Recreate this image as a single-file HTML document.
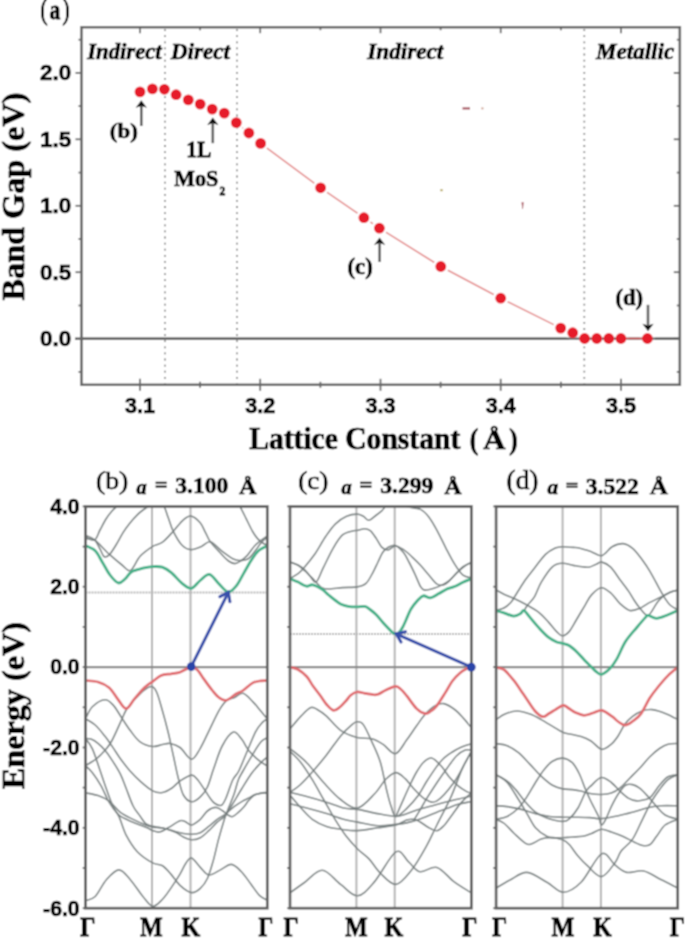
<!DOCTYPE html>
<html><head><meta charset="utf-8"><title>MoS2 band gap vs lattice constant</title>
<style>html,body{margin:0;padding:0;background:#fff;}svg{display:block;}text{stroke:#000;stroke-width:0.7px;}</style></head>
<body><svg width="685" height="938" viewBox="0 0 685 938">
<defs><filter id="soft" x="0" y="0" width="685" height="938" filterUnits="userSpaceOnUse"><feConvolveMatrix order="3" kernelMatrix="1 2 1 2 4 2 1 2 1" divisor="16" edgeMode="duplicate"/></filter></defs>
<g filter="url(#soft)">
<rect width="685" height="938" fill="#fff"/>
<g stroke="#666" stroke-width="2.6" fill="none">
<path d="M81.5,27.2H679.8V384.8H81.5Z"/>
<path d="M75,338.7H679.8"/>
</g>
<g stroke="#666" stroke-width="1.8" fill="none">
<path d="M140.0,378.8V390.8"/>
<path d="M140.0,27.2V33.2"/>
<path d="M200.1,381.8V387.8"/>
<path d="M200.1,27.2V30.2"/>
<path d="M260.2,378.8V390.8"/>
<path d="M260.2,27.2V33.2"/>
<path d="M320.4,381.8V387.8"/>
<path d="M320.4,27.2V30.2"/>
<path d="M380.5,378.8V390.8"/>
<path d="M380.5,27.2V33.2"/>
<path d="M440.6,381.8V387.8"/>
<path d="M440.6,27.2V30.2"/>
<path d="M500.7,378.8V390.8"/>
<path d="M500.7,27.2V33.2"/>
<path d="M560.9,381.8V387.8"/>
<path d="M560.9,27.2V30.2"/>
<path d="M621.0,378.8V390.8"/>
<path d="M621.0,27.2V33.2"/>
<path d="M78.5,371.9H81.5"/>
<path d="M676.8,371.9H679.8"/>
<path d="M75.5,338.7H81.5"/>
<path d="M673.8,338.7H679.8"/>
<path d="M78.5,305.5H81.5"/>
<path d="M676.8,305.5H679.8"/>
<path d="M75.5,272.2H81.5"/>
<path d="M673.8,272.2H679.8"/>
<path d="M78.5,239.0H81.5"/>
<path d="M676.8,239.0H679.8"/>
<path d="M75.5,205.8H81.5"/>
<path d="M673.8,205.8H679.8"/>
<path d="M78.5,172.6H81.5"/>
<path d="M676.8,172.6H679.8"/>
<path d="M75.5,139.3H81.5"/>
<path d="M673.8,139.3H679.8"/>
<path d="M78.5,106.1H81.5"/>
<path d="M676.8,106.1H679.8"/>
<path d="M75.5,72.9H81.5"/>
<path d="M673.8,72.9H679.8"/>
<path d="M78.5,39.7H81.5"/>
<path d="M676.8,39.7H679.8"/>
</g>
<path d="M140,91.9 L152.4,88.9 L164.4,89.3 L176.1,94.7 L188.3,99.9 L200.2,104.1 L212.2,109.1 L224.3,113.1 L236.3,122.6 L248.9,133 L260.6,143.4 L320.6,187.8 L363.9,217.7 L379.4,228.2 L440.8,266.5 L500.7,298.2 L560.7,328.1 L572.7,332.7 L584.6,338.5 L596.8,338.5 L608.8,338.5 L620.9,338.5 L647.4,338.5" stroke="#e58c8c" stroke-width="1.6" fill="none"/>
<circle cx="140" cy="91.9" r="7.9" fill="#fff"/>
<circle cx="152.4" cy="88.9" r="7.9" fill="#fff"/>
<circle cx="164.4" cy="89.3" r="7.9" fill="#fff"/>
<circle cx="176.1" cy="94.7" r="7.9" fill="#fff"/>
<circle cx="188.3" cy="99.9" r="7.9" fill="#fff"/>
<circle cx="200.2" cy="104.1" r="7.9" fill="#fff"/>
<circle cx="212.2" cy="109.1" r="7.9" fill="#fff"/>
<circle cx="224.3" cy="113.1" r="7.9" fill="#fff"/>
<circle cx="236.3" cy="122.6" r="7.9" fill="#fff"/>
<circle cx="248.9" cy="133" r="7.9" fill="#fff"/>
<circle cx="260.6" cy="143.4" r="7.9" fill="#fff"/>
<circle cx="320.6" cy="187.8" r="7.9" fill="#fff"/>
<circle cx="363.9" cy="217.7" r="7.9" fill="#fff"/>
<circle cx="379.4" cy="228.2" r="7.9" fill="#fff"/>
<circle cx="440.8" cy="266.5" r="7.9" fill="#fff"/>
<circle cx="500.7" cy="298.2" r="7.9" fill="#fff"/>
<circle cx="560.7" cy="328.1" r="7.9" fill="#fff"/>
<circle cx="572.7" cy="332.7" r="7.9" fill="#fff"/>
<circle cx="584.6" cy="338.5" r="7.9" fill="#fff"/>
<circle cx="596.8" cy="338.5" r="7.9" fill="#fff"/>
<circle cx="608.8" cy="338.5" r="7.9" fill="#fff"/>
<circle cx="620.9" cy="338.5" r="7.9" fill="#fff"/>
<circle cx="647.4" cy="338.5" r="7.9" fill="#fff"/>
<path d="M82.5,338.7H679.8" stroke="#666" stroke-width="2.2"/>
<g stroke="#808080" stroke-width="1.7" stroke-dasharray="1.8 4.3" fill="none">
<path d="M165.0,29.2V383.8"/>
<path d="M237.0,29.2V383.8"/>
<path d="M584.3,29.2V383.8"/>
</g>
<path d="M620.9,338.5H647.4" stroke="#d97070" stroke-width="1.8"/>
<circle cx="140" cy="91.9" r="5.4" fill="#e61c2c"/>
<circle cx="152.4" cy="88.9" r="5.4" fill="#e61c2c"/>
<circle cx="164.4" cy="89.3" r="5.4" fill="#e61c2c"/>
<circle cx="176.1" cy="94.7" r="5.4" fill="#e61c2c"/>
<circle cx="188.3" cy="99.9" r="5.4" fill="#e61c2c"/>
<circle cx="200.2" cy="104.1" r="5.4" fill="#e61c2c"/>
<circle cx="212.2" cy="109.1" r="5.4" fill="#e61c2c"/>
<circle cx="224.3" cy="113.1" r="5.4" fill="#e61c2c"/>
<circle cx="236.3" cy="122.6" r="5.4" fill="#e61c2c"/>
<circle cx="248.9" cy="133" r="5.4" fill="#e61c2c"/>
<circle cx="260.6" cy="143.4" r="5.4" fill="#e61c2c"/>
<circle cx="320.6" cy="187.8" r="5.4" fill="#e61c2c"/>
<circle cx="363.9" cy="217.7" r="5.4" fill="#e61c2c"/>
<circle cx="379.4" cy="228.2" r="5.4" fill="#e61c2c"/>
<circle cx="440.8" cy="266.5" r="5.4" fill="#e61c2c"/>
<circle cx="500.7" cy="298.2" r="5.4" fill="#e61c2c"/>
<circle cx="560.7" cy="328.1" r="5.4" fill="#e61c2c"/>
<circle cx="572.7" cy="332.7" r="5.4" fill="#e61c2c"/>
<circle cx="584.6" cy="338.5" r="5.4" fill="#e61c2c"/>
<circle cx="596.8" cy="338.5" r="5.4" fill="#e61c2c"/>
<circle cx="608.8" cy="338.5" r="5.4" fill="#e61c2c"/>
<circle cx="620.9" cy="338.5" r="5.4" fill="#e61c2c"/>
<circle cx="647.4" cy="338.5" r="5.4" fill="#e61c2c"/>
<path d="M141.3,106.0V126" stroke="#606060" stroke-width="2.6"/><path d="M141.3,100.3 L146.9,107.8 L141.3,106.0 L135.70000000000002,107.8Z" fill="#111"/>
<path d="M212.8,123.2V143.2" stroke="#606060" stroke-width="2.6"/><path d="M212.8,117.5 L218.4,125.0 L212.8,123.2 L207.20000000000002,125.0Z" fill="#111"/>
<path d="M379.6,243.1V262" stroke="#606060" stroke-width="2.6"/><path d="M379.6,237.4 L385.20000000000005,244.9 L379.6,243.1 L374.0,244.9Z" fill="#111"/>
<path d="M648,325.5V304.8" stroke="#606060" stroke-width="2.6"/><path d="M648,331.2 L653.6,323.7 L648,325.5 L642.4,323.7Z" fill="#111"/>
<rect x="462.5" y="107.3" width="7.5" height="2.2" fill="#9a3a48" opacity="0.85"/>
<rect x="481.4" y="107.5" width="2" height="1.8" fill="#b06a50" opacity="0.7"/>
<rect x="440.3" y="189.2" width="2.4" height="2" fill="#a09030" opacity="0.8"/>
<path d="M521.6,202.3L523.6,202.3L522.9,209L522.3,209Z" fill="#9a2a3a" opacity="0.9"/>
<text transform="translate(40.40,18.56) scale(1,1.3504)" font-family="'Liberation Serif', serif" font-weight="normal" font-style="normal" font-size="21.05" fill="#000">(</text>
<text transform="translate(49.60,19.12) scale(1,1.3021)" font-family="'Liberation Serif', serif" font-weight="bold" font-style="normal" font-size="21.60" fill="#000">a</text>
<text transform="translate(62.60,18.56) scale(1,1.3504)" font-family="'Liberation Serif', serif" font-weight="normal" font-style="normal" font-size="21.05" fill="#000">)</text>
<text transform="translate(87.23,59.16) scale(1,1.0380)" font-family="'Liberation Serif', serif" font-weight="bold" font-style="italic" font-size="22.68" fill="#000">Indirect</text>
<text transform="translate(170.77,59.16) scale(1,1.0147)" font-family="'Liberation Serif', serif" font-weight="bold" font-style="italic" font-size="23.20" fill="#000">Direct</text>
<text transform="translate(367.23,59.17) scale(1,1.0028)" font-family="'Liberation Serif', serif" font-weight="bold" font-style="italic" font-size="23.20" fill="#000">Indirect</text>
<text transform="translate(595.95,58.97) scale(1,1.0070)" font-family="'Liberation Serif', serif" font-weight="bold" font-style="italic" font-size="23.10" fill="#000">Metallic</text>
<text transform="translate(109.80,137.76) scale(1,0.9334)" font-family="'Liberation Serif', serif" font-weight="bold" font-style="normal" font-size="22.90" fill="#000">(b)</text>
<text transform="translate(186.30,157.20) scale(1,1.1065)" font-family="'Liberation Serif', serif" font-weight="bold" font-style="normal" font-size="21.50" fill="#000">1L</text>
<text transform="translate(174.00,186.17) scale(1,1.0516)" font-family="'Liberation Serif', serif" font-weight="bold" font-style="normal" font-size="22.20" fill="#000">MoS</text>
<text transform="translate(219.60,194.60) scale(1,1.1451)" font-family="'Liberation Serif', serif" font-weight="bold" font-style="normal" font-size="11.60" fill="#000">2</text>
<text transform="translate(347.60,273.88) scale(1,1.0233)" font-family="'Liberation Serif', serif" font-weight="bold" font-style="normal" font-size="22.61" fill="#000">(c)</text>
<text transform="translate(615.50,305.02) scale(1,1.0591)" font-family="'Liberation Serif', serif" font-weight="bold" font-style="normal" font-size="22.58" fill="#000">(d)</text>
<text transform="translate(40.06,80.38) scale(1,0.9717)" font-family="'Liberation Sans', sans-serif" font-weight="bold" font-style="normal" font-size="22.40" fill="#000">2.0</text>
<text transform="translate(40.06,146.83) scale(1,0.9857)" font-family="'Liberation Sans', sans-serif" font-weight="bold" font-style="normal" font-size="22.40" fill="#000">1.5</text>
<text transform="translate(40.06,213.28) scale(1,0.9717)" font-family="'Liberation Sans', sans-serif" font-weight="bold" font-style="normal" font-size="22.40" fill="#000">1.0</text>
<text transform="translate(40.06,279.73) scale(1,0.9717)" font-family="'Liberation Sans', sans-serif" font-weight="bold" font-style="normal" font-size="22.40" fill="#000">0.5</text>
<text transform="translate(40.06,346.18) scale(1,0.9717)" font-family="'Liberation Sans', sans-serif" font-weight="bold" font-style="normal" font-size="22.40" fill="#000">0.0</text>
<text transform="translate(124.99,412.67)" font-family="'Liberation Sans', sans-serif" font-weight="bold" font-style="normal" font-size="21.60" fill="#000">3.1</text>
<text transform="translate(245.24,412.67)" font-family="'Liberation Sans', sans-serif" font-weight="bold" font-style="normal" font-size="21.60" fill="#000">3.2</text>
<text transform="translate(365.49,412.67)" font-family="'Liberation Sans', sans-serif" font-weight="bold" font-style="normal" font-size="21.60" fill="#000">3.3</text>
<text transform="translate(485.74,412.67)" font-family="'Liberation Sans', sans-serif" font-weight="bold" font-style="normal" font-size="21.60" fill="#000">3.4</text>
<text transform="translate(605.99,412.67)" font-family="'Liberation Sans', sans-serif" font-weight="bold" font-style="normal" font-size="21.60" fill="#000">3.5</text>
<text transform="translate(249.20,448.90) scale(1,1.0474)" font-family="'Liberation Serif', serif" font-weight="bold" font-style="normal" font-size="29.59" fill="#000">Lattice Constant</text>
<text transform="translate(469.80,448.56) scale(1,1.1253)" font-family="'Liberation Serif', serif" font-weight="bold" font-style="normal" font-size="25.26" fill="#000">(</text>
<text transform="translate(482.90,448.70) scale(1,0.8477)" font-family="'Liberation Serif', serif" font-weight="bold" font-style="normal" font-size="31.28" fill="#000">Å</text>
<text transform="translate(509.20,448.56) scale(1,1.1253)" font-family="'Liberation Serif', serif" font-weight="bold" font-style="normal" font-size="25.26" fill="#000">)</text>
<text transform="translate(23.83,300.50) rotate(-90) scale(1,1.0000)" font-family="'Liberation Serif', serif" font-weight="bold" font-style="normal" font-size="32.27" fill="#000">Band Gap (eV)</text>
<defs>
<clipPath id="cpb"><rect x="85.5" y="506.5" width="181.8" height="401.70000000000005"/></clipPath>
<clipPath id="cpc"><rect x="290.0" y="506.5" width="181.39999999999998" height="401.70000000000005"/></clipPath>
<clipPath id="cpd"><rect x="496.1" y="506.5" width="181.60000000000002" height="401.70000000000005"/></clipPath>
</defs>
<g clip-path="url(#cpb)">
<g stroke="#b4b4b4" stroke-width="2" fill="none">
<path d="M152.0,506.5V908.2"/>
<path d="M190.5,506.5V908.2"/>
</g>
<path d="M85.5,592.4H267.3" stroke="#b6b6b6" stroke-width="2" stroke-dasharray="2 1" fill="none"/>
<path d="M85.5,667.1H267.3" stroke="#888" stroke-width="2.2" fill="none"/>
<g stroke="#788080" stroke-width="1.6" fill="none">
<path d="M85.5,535.5 C87.0,536.2 90.5,536.6 94.5,539.7 C98.5,542.8 104.6,550.0 109.2,554.2 C113.8,558.4 118.5,562.3 122.0,565.0 C125.5,567.7 127.5,572.0 130.5,570.5 C133.5,569.0 136.4,560.3 140.1,556.3 C143.8,552.3 149.0,548.8 152.7,546.4 C156.4,544.0 159.0,544.8 162.5,542.2 C166.0,539.6 170.1,534.7 173.5,531.0 C176.9,527.3 180.2,522.6 183.1,520.1 C186.0,517.6 188.2,515.7 191.0,516.1 C193.8,516.5 197.8,520.0 200.2,522.7 C202.6,525.5 203.8,529.4 205.5,532.6 C207.2,535.8 208.0,538.6 210.4,541.9 C212.8,545.2 216.7,549.1 219.7,552.3 C222.7,555.5 225.9,559.1 228.5,561.0 C231.1,562.9 233.0,563.6 235.0,563.6 C237.0,563.6 238.5,562.3 240.5,561.0 C242.5,559.7 244.7,558.1 247.1,555.6 C249.5,553.1 252.3,548.3 254.7,545.7 C257.1,543.1 259.2,541.9 261.3,540.2 C263.4,538.6 266.3,536.5 267.3,535.8"/>
<path d="M85.5,538.7 C87.0,538.9 92.1,538.4 94.5,540.1 C96.9,541.8 98.4,546.3 100.0,549.0 C101.6,551.7 102.5,555.5 104.0,556.5 C105.5,557.5 107.2,556.8 109.2,554.9 C111.2,553.0 113.7,548.8 116.0,545.0 C118.3,541.2 120.9,536.1 123.2,532.4 C125.5,528.7 127.7,525.9 130.0,523.0 C132.3,520.1 135.1,517.1 137.3,514.9 C139.5,512.7 140.9,511.5 143.0,510.0 C145.1,508.5 147.7,506.9 150.0,506.0 C152.3,505.1 154.7,504.4 157.0,504.5 C159.3,504.6 162.1,504.4 163.9,506.5 C165.7,508.6 166.4,512.9 168.0,517.0 C169.6,521.1 170.9,526.5 173.2,531.2 C175.5,535.9 178.8,541.9 181.8,545.0 C184.8,548.1 187.7,549.4 191.0,549.6 C194.3,549.8 198.3,547.7 201.5,546.4 C204.7,545.1 207.0,541.1 210.4,541.9 C213.8,542.7 218.2,548.4 221.9,551.2 C225.6,554.0 229.9,557.2 232.8,558.8 C235.7,560.3 236.8,560.5 239.4,560.5 C242.0,560.5 245.5,560.5 248.2,558.8 C250.9,557.1 253.6,552.8 255.8,550.1 C258.0,547.4 259.4,544.6 261.3,542.4 C263.2,540.2 266.3,537.8 267.3,536.9"/>
<path d="M85.5,537.0 C87.0,537.5 92.1,541.3 94.5,540.1 C96.9,538.9 98.1,533.5 100.0,530.0 C101.9,526.5 104.0,522.2 106.0,519.0 C108.0,515.8 110.1,513.2 112.0,511.0 C113.9,508.8 116.1,507.3 117.6,506.0 C119.1,504.7 120.4,503.5 121.0,503.0"/>
<path d="M236.0,500.0 C236.7,501.1 238.3,503.4 240.0,506.5 C241.7,509.6 243.9,514.1 246.0,518.3 C248.1,522.5 250.6,528.0 252.6,531.5 C254.6,535.0 256.2,537.1 258.0,539.1 C259.8,541.1 261.9,542.5 263.5,543.5 C265.1,544.5 266.7,544.8 267.3,545.0"/>
<path d="M85.5,718.7 C86.7,716.7 89.2,709.9 92.4,706.8 C95.7,703.6 101.5,700.0 105.0,699.8 C108.5,699.6 110.6,702.4 113.4,705.4 C116.2,708.4 119.0,713.8 121.8,718.0 C124.6,722.2 127.3,726.6 130.3,730.6 C133.4,734.6 136.4,739.2 140.1,741.9 C143.8,744.5 149.0,746.1 152.7,746.5 C156.4,746.9 159.6,745.0 162.5,744.5 C165.4,744.0 167.1,743.0 170.0,743.5 C172.9,744.0 176.4,744.9 180.0,747.5 C183.6,750.1 188.1,759.0 191.4,759.2 C194.7,759.4 196.9,753.8 200.0,748.8 C203.1,743.8 206.5,735.8 209.7,729.3 C212.9,722.8 216.6,714.6 219.4,709.9 C222.2,705.2 223.8,703.0 226.3,700.9 C228.8,698.8 231.8,698.7 234.6,697.4 C237.4,696.1 240.0,692.6 243.0,693.3 C246.0,694.0 249.7,698.6 252.7,701.6 C255.7,704.6 258.6,708.4 261.0,711.3 C263.4,714.2 266.2,717.6 267.3,718.9"/>
<path d="M85.5,765.7 C87.3,764.5 93.3,761.3 96.6,758.7 C99.8,756.1 102.4,753.3 105.0,750.3 C107.6,747.3 109.2,745.6 112.0,740.5 C114.8,735.4 119.4,724.6 121.8,719.4 C124.2,714.2 124.3,712.9 126.5,709.5 C128.7,706.1 132.0,702.2 135.0,699.0 C138.0,695.8 141.5,692.1 144.3,690.0 C147.1,687.9 149.9,686.0 152.0,686.5 C154.1,687.0 155.2,688.7 156.9,692.8 C158.7,696.9 160.6,704.5 162.5,711.0 C164.4,717.5 166.2,724.3 168.1,732.0 C170.0,739.7 172.0,749.8 173.7,757.3 C175.3,764.8 176.4,770.7 178.0,777.0 C179.6,783.3 181.1,790.9 183.4,795.0 C185.7,799.1 188.8,801.5 191.6,801.8 C194.4,802.1 197.7,799.4 200.3,796.9 C202.9,794.4 205.2,791.8 207.4,787.0 C209.7,782.2 211.3,775.0 213.8,768.2 C216.3,761.4 218.9,752.0 222.2,746.0 C225.4,740.0 230.1,733.2 233.3,732.1 C236.5,731.0 239.1,736.1 241.6,739.1 C244.1,742.1 245.7,746.7 248.5,750.2 C251.3,753.7 255.1,757.2 258.2,759.9 C261.3,762.5 265.8,765.1 267.3,766.1"/>
<path d="M85.5,718.7 C87.1,719.8 92.0,722.1 95.2,725.0 C98.5,727.9 102.2,732.8 105.0,736.3 C107.8,739.8 109.4,742.4 112.0,746.1 C114.6,749.8 117.4,754.5 120.4,758.7 C123.5,762.9 127.0,767.6 130.3,771.3 C133.6,775.0 136.4,777.8 140.1,781.1 C143.8,784.4 149.0,789.0 152.7,790.9 C156.4,792.8 159.3,793.0 162.5,792.5 C165.7,792.0 169.1,789.9 172.0,788.0 C174.9,786.1 176.8,783.1 180.0,781.0 C183.2,778.9 188.5,775.4 191.4,775.1 C194.3,774.8 195.1,777.0 197.2,779.3 C199.3,781.6 201.9,785.8 204.1,789.0 C206.3,792.2 208.4,795.9 210.2,798.3 C212.0,800.7 213.1,802.3 215.0,803.5 C216.9,804.7 219.6,806.2 221.4,805.3 C223.2,804.4 224.1,802.2 226.0,798.0 C227.9,793.8 230.6,784.5 232.7,780.0 C234.8,775.5 236.4,775.8 238.8,771.0 C241.2,766.2 244.3,758.0 247.1,751.5 C249.9,745.0 252.9,737.0 255.4,732.1 C257.9,727.2 260.4,724.6 262.4,722.4 C264.4,720.2 266.5,719.5 267.3,718.9"/>
<path d="M85.5,738.4 C86.4,738.5 88.9,738.3 91.0,739.1 C93.1,739.9 95.7,741.4 98.0,743.3 C100.3,745.2 102.7,747.5 105.0,750.3 C107.3,753.1 109.4,756.1 112.0,760.1 C114.6,764.1 118.1,769.5 120.4,774.1 C122.7,778.8 123.9,782.7 126.0,788.0 C128.1,793.3 130.8,801.3 133.1,806.0 C135.4,810.7 137.9,813.1 140.0,816.0 C142.1,818.9 143.6,821.9 145.7,823.6 C147.8,825.3 149.9,825.7 152.7,826.4 C155.5,827.1 158.8,827.2 162.5,828.0 C166.2,828.8 171.5,830.5 175.0,831.4 C178.5,832.3 180.6,833.0 183.4,833.5 C186.2,834.0 188.8,834.3 191.6,834.2 C194.4,834.1 197.4,834.1 200.3,832.8 C203.2,831.5 206.0,828.6 208.8,826.4 C211.6,824.2 214.4,821.5 217.2,819.4 C220.0,817.3 222.9,815.9 225.7,813.8 C228.5,811.7 231.3,808.8 234.1,806.7 C236.9,804.6 240.2,802.5 242.6,801.1 C244.9,799.7 245.9,799.5 248.2,798.3 C250.5,797.1 253.4,795.0 256.6,794.1 C259.8,793.2 265.5,792.9 267.3,792.7"/>
<path d="M85.5,738.4 C86.7,740.1 90.1,743.9 92.4,748.9 C94.7,753.9 97.3,762.5 99.4,768.5 C101.5,774.5 102.9,779.1 105.0,785.0 C107.1,790.9 109.7,799.0 112.0,804.0 C114.3,809.0 115.5,812.2 119.0,815.2 C122.5,818.2 128.4,820.1 133.1,822.2 C137.8,824.3 143.8,826.4 147.1,827.8 C150.4,829.2 150.6,829.9 152.7,830.6 C154.8,831.3 157.1,832.5 159.7,832.0 C162.3,831.5 164.7,829.7 168.1,827.8 C171.5,825.9 177.2,821.8 180.0,820.8 C182.8,819.8 183.1,820.8 185.0,821.5 C186.9,822.2 189.0,825.4 191.6,825.0 C194.2,824.6 197.7,821.7 200.3,819.4 C202.9,817.1 204.8,813.0 207.4,811.0 C210.0,809.0 213.2,807.4 215.8,807.4 C218.4,807.4 220.8,809.7 222.9,811.0 C225.0,812.3 226.9,814.3 228.5,815.2 C230.1,816.1 231.1,817.1 232.7,816.6 C234.3,816.1 236.4,814.0 238.3,812.4 C240.2,810.8 242.3,808.6 244.0,806.7 C245.7,804.8 246.6,803.0 248.2,801.1 C249.8,799.2 251.5,796.9 253.8,795.5 C256.2,794.1 260.1,793.2 262.3,792.7 C264.6,792.2 266.5,792.7 267.3,792.7"/>
<path d="M85.5,765.7 C86.7,766.9 89.9,769.4 92.4,772.7 C95.0,776.0 98.2,780.8 100.8,785.3 C103.4,789.8 105.8,796.2 107.8,800.0 C109.8,803.8 111.1,805.2 113.0,808.0 C114.9,810.8 116.8,812.1 119.0,816.6 C121.2,821.1 123.0,828.9 126.0,834.8 C129.1,840.6 132.9,847.0 137.3,851.7 C141.8,856.4 148.5,860.6 152.7,862.9 C156.9,865.2 159.5,863.8 162.5,865.7 C165.5,867.6 168.0,870.8 170.9,874.1 C173.8,877.4 176.6,882.2 180.0,885.3 C183.4,888.4 188.2,892.1 191.6,892.6 C195.0,893.1 197.7,890.8 200.3,888.4 C202.9,886.0 205.3,883.0 207.4,878.5 C209.5,874.0 211.1,868.2 213.0,861.6 C214.9,855.0 216.7,846.1 218.6,839.1 C220.5,832.1 222.7,824.6 224.3,819.4 C226.0,814.2 226.9,812.3 228.5,808.1 C230.1,803.9 232.5,798.8 234.1,794.1 C235.7,789.4 236.8,783.9 238.3,780.0 C239.8,776.1 240.6,775.3 243.0,771.0 C245.4,766.7 249.7,759.2 252.7,754.3 C255.7,749.4 258.6,744.6 261.0,741.8 C263.4,739.0 266.2,738.4 267.3,737.7"/>
<path d="M85.5,792.8 C87.6,793.3 94.0,794.2 98.0,795.6 C102.0,797.0 105.5,798.4 109.2,801.2 C112.9,804.0 116.4,809.4 120.4,812.4 C124.4,815.4 128.9,817.3 133.1,819.4 C137.3,821.5 142.4,823.7 145.7,825.0 C149.0,826.3 149.9,826.6 152.7,827.1 C155.5,827.6 158.8,827.2 162.5,828.0 C166.2,828.8 171.5,830.5 175.0,832.0 C178.5,833.5 180.6,835.7 183.4,837.0 C186.2,838.3 188.8,839.7 191.6,839.8 C194.4,839.9 197.4,839.2 200.3,837.7 C203.2,836.2 206.0,833.3 208.8,830.7 C211.6,828.1 214.4,824.8 217.2,822.2 C220.0,819.6 223.2,818.1 225.7,815.2 C228.2,812.3 229.3,809.4 232.0,805.0 C234.7,800.6 238.4,794.2 241.6,789.0 C244.8,783.8 248.1,778.1 251.3,773.7 C254.5,769.3 258.3,765.4 261.0,762.6 C263.7,759.8 266.2,758.0 267.3,757.1"/>
<path d="M85.5,900.7 C87.1,900.0 91.7,900.0 95.2,896.5 C98.7,893.0 102.4,884.1 106.4,879.7 C110.4,875.3 115.0,869.9 119.0,869.9 C123.0,869.9 126.3,875.3 130.3,879.7 C134.3,884.1 139.2,892.1 142.9,896.5 C146.6,900.9 149.4,905.8 152.7,906.3 C156.0,906.8 159.5,902.3 162.5,899.3 C165.5,896.3 168.0,892.3 170.9,888.1 C173.8,883.9 177.5,878.3 180.0,874.1 C182.5,869.9 184.1,865.7 186.0,863.0 C187.9,860.3 189.2,857.4 191.6,858.1 C194.0,858.8 197.4,864.5 200.3,867.3 C203.2,870.1 205.5,874.5 208.8,875.0 C212.1,875.5 216.2,871.9 220.0,870.1 C223.8,868.3 227.8,864.2 231.3,864.4 C234.8,864.6 237.9,868.2 241.2,871.5 C244.5,874.8 248.0,880.2 251.0,884.2 C254.0,888.2 256.7,892.7 259.4,895.4 C262.1,898.1 266.0,899.5 267.3,900.3"/>
</g>
<path d="M85.5,545.6 C87.1,546.5 92.4,548.0 95.2,550.7 C98.0,553.4 99.7,557.9 102.2,561.9 C104.7,565.9 107.3,571.5 110.0,575.0 C112.7,578.5 115.8,582.2 118.3,582.9 C120.8,583.6 122.8,580.9 125.0,579.0 C127.2,577.1 128.7,573.5 131.7,571.7 C134.7,569.9 139.4,569.1 142.9,568.2 C146.4,567.4 149.5,566.8 152.7,566.6 C155.9,566.4 159.2,566.2 162.3,567.2 C165.4,568.2 168.1,570.0 171.3,572.6 C174.6,575.2 178.5,580.5 181.8,583.1 C185.1,585.7 187.9,588.8 191.0,588.4 C194.1,588.0 197.1,582.8 200.2,580.5 C203.3,578.2 206.3,573.9 209.4,574.4 C212.5,574.9 215.5,580.6 218.6,583.5 C221.7,586.4 225.1,591.4 228.0,591.9 C230.9,592.4 233.5,589.3 236.1,586.2 C238.7,583.1 241.2,577.5 243.8,573.1 C246.4,568.7 249.1,563.5 251.5,559.9 C253.9,556.2 255.4,553.6 258.0,551.2 C260.6,548.9 265.8,546.7 267.3,545.8" stroke="#44b088" stroke-width="2.8" fill="none"/>
<path d="M85.5,680.5 C87.6,680.8 94.0,680.8 98.0,682.0 C102.0,683.2 105.9,684.9 109.2,687.7 C112.5,690.5 114.8,695.4 117.6,698.9 C120.4,702.4 123.2,708.6 126.0,708.6 C128.8,708.6 131.4,702.4 134.5,698.9 C137.6,695.4 141.2,690.6 144.3,687.7 C147.4,684.8 150.1,683.3 152.9,681.3 C155.7,679.3 158.1,676.8 161.1,675.5 C164.1,674.2 167.8,674.3 171.0,673.8 C174.2,673.2 176.7,673.3 180.0,672.2 C183.3,671.1 188.1,667.5 191.0,667.1 C193.9,666.7 195.0,667.7 197.2,669.7 C199.4,671.8 201.6,675.9 204.1,679.4 C206.6,682.9 209.9,687.5 212.4,690.5 C214.9,693.5 216.7,695.9 219.0,697.5 C221.3,699.1 223.5,700.8 226.3,700.2 C229.1,699.6 233.2,695.6 236.0,694.0 C238.8,692.4 240.2,692.4 243.0,690.5 C245.8,688.6 249.7,684.5 252.7,682.9 C255.7,681.3 258.6,681.2 261.0,680.8 C263.4,680.4 266.2,680.6 267.3,680.6" stroke="#e06c70" stroke-width="2.7" fill="none"/>
<path d="M191.2,666.6L227.8,593.4" stroke="#3850aa" stroke-width="3.1" fill="none"/>
<path d="M219.9,596.7L228.3,592.3L229.9,601.7" stroke="#3850aa" stroke-width="3.1" fill="none" stroke-linejoin="miter" stroke-linecap="round"/>
<circle cx="191.2" cy="666.6" r="4.3" fill="#2a44a8"/>
</g>
<path d="M82.7,908.2H85.5" stroke="#5e5e5e" stroke-width="1.8"/>
<path d="M82.7,868.0H85.5" stroke="#5e5e5e" stroke-width="1.8"/>
<path d="M82.7,827.8H85.5" stroke="#5e5e5e" stroke-width="1.8"/>
<path d="M82.7,787.6H85.5" stroke="#5e5e5e" stroke-width="1.8"/>
<path d="M82.7,747.5H85.5" stroke="#5e5e5e" stroke-width="1.8"/>
<path d="M82.7,707.3H85.5" stroke="#5e5e5e" stroke-width="1.8"/>
<path d="M82.7,667.1H85.5" stroke="#5e5e5e" stroke-width="1.8"/>
<path d="M82.7,626.9H85.5" stroke="#5e5e5e" stroke-width="1.8"/>
<path d="M82.7,586.7H85.5" stroke="#5e5e5e" stroke-width="1.8"/>
<path d="M82.7,546.6H85.5" stroke="#5e5e5e" stroke-width="1.8"/>
<path d="M82.7,506.4H85.5" stroke="#5e5e5e" stroke-width="1.8"/>
<rect x="85.5" y="506.5" width="181.8" height="401.70000000000005" fill="none" stroke="#5e5e5e" stroke-width="2.7"/>
<g clip-path="url(#cpc)">
<g stroke="#b4b4b4" stroke-width="2" fill="none">
<path d="M356.4,506.5V908.2"/>
<path d="M394.7,506.5V908.2"/>
</g>
<path d="M290.0,634.0H471.4" stroke="#b6b6b6" stroke-width="2" stroke-dasharray="2 1" fill="none"/>
<path d="M290.0,667.1H471.4" stroke="#888" stroke-width="2.2" fill="none"/>
<g stroke="#788080" stroke-width="1.6" fill="none">
<path d="M290.0,561.9 C291.4,562.5 295.6,563.9 298.1,565.4 C300.6,566.9 302.2,568.5 305.0,571.0 C307.8,573.5 311.9,577.9 314.7,580.7 C317.5,583.5 319.4,586.2 321.7,587.6 C324.0,589.0 325.1,589.0 328.6,589.0 C332.1,589.0 337.8,588.0 342.5,587.6 C347.2,587.2 353.1,587.6 357.0,586.9 C360.9,586.2 363.3,585.8 366.0,583.4 C368.7,581.0 371.0,575.9 373.0,572.3 C375.0,568.7 376.3,565.4 378.0,562.0 C379.7,558.6 381.3,554.4 383.0,552.0 C384.7,549.6 385.9,548.6 388.0,547.5 C390.1,546.4 392.8,544.6 395.4,545.5 C398.0,546.4 401.2,549.8 403.5,552.6 C405.8,555.4 407.3,559.0 409.2,562.5 C411.1,566.0 412.9,569.8 414.8,573.8 C416.7,577.8 418.9,583.8 420.5,586.5 C422.1,589.2 422.3,589.9 424.7,590.1 C427.1,590.4 431.8,588.8 434.6,588.0 C437.4,587.2 439.3,586.3 441.7,585.1 C444.1,583.9 446.2,583.0 448.8,580.9 C451.4,578.8 454.5,575.0 457.3,572.4 C460.1,569.8 463.5,566.9 465.8,565.3 C468.1,563.6 470.5,563.0 471.4,562.5"/>
<path d="M290.0,561.9 C291.3,562.4 295.5,563.6 298.0,565.0 C300.5,566.4 303.0,568.2 305.0,570.0 C307.0,571.8 308.1,574.0 310.0,576.0 C311.9,578.0 313.9,583.4 316.1,582.1 C318.3,580.8 320.3,573.8 323.1,568.2 C325.9,562.7 329.6,554.3 332.8,548.8 C336.0,543.2 339.0,537.9 342.5,534.9 C346.0,531.9 351.2,531.4 353.6,530.7 C356.0,530.0 355.1,530.8 357.0,530.5 C358.9,530.2 362.5,528.7 364.7,528.7 C366.9,528.7 368.3,529.2 370.2,530.7 C372.1,532.2 373.8,534.9 375.8,537.7 C377.8,540.5 380.0,545.4 382.0,547.4 C384.0,549.4 385.8,550.2 388.0,550.0 C390.2,549.8 392.8,546.0 395.4,546.0 C398.0,546.0 400.7,547.9 403.5,549.7 C406.3,551.5 409.2,554.2 412.0,556.8 C414.8,559.4 417.7,562.2 420.5,565.3 C423.3,568.4 426.2,572.0 429.0,575.2 C431.8,578.4 434.7,583.0 437.5,584.4 C440.3,585.8 443.2,585.2 446.0,583.7 C448.8,582.2 451.7,578.0 454.5,575.2 C457.3,572.4 460.2,568.8 463.0,566.7 C465.8,564.6 470.0,563.2 471.4,562.5"/>
<path d="M290.0,578.6 C291.4,577.8 295.8,575.4 298.1,573.7 C300.4,572.0 300.8,571.4 303.6,568.2 C306.4,565.0 311.0,559.6 314.7,554.3 C318.4,549.0 322.3,541.4 325.8,536.3 C329.3,531.2 332.0,527.1 335.5,523.8 C339.0,520.4 343.0,517.8 346.6,516.2 C350.2,514.6 354.2,514.1 357.0,514.1 C359.8,514.1 361.3,515.2 363.3,516.2 C365.3,517.2 366.7,520.4 368.8,520.3 C370.9,520.2 373.6,517.1 375.8,515.5 C378.0,513.9 380.3,512.2 382.0,510.6 C383.7,509.0 384.3,507.4 386.0,506.0 C387.7,504.6 391.0,502.7 392.0,502.0"/>
<path d="M400.0,502.0 C401.1,502.8 402.9,505.3 406.3,506.5 C409.7,507.7 416.7,507.6 420.5,509.4 C424.3,511.2 426.2,513.6 429.0,517.2 C431.8,520.9 434.7,526.1 437.5,531.3 C440.3,536.5 443.2,542.9 446.0,548.3 C448.8,553.7 451.7,559.4 454.5,563.9 C457.3,568.4 460.2,572.9 463.0,575.2 C465.8,577.6 470.0,577.5 471.4,578.0"/>
<path d="M290.0,728.9 C291.8,726.8 297.5,719.6 301.0,716.1 C304.5,712.6 308.1,708.6 310.9,707.6 C313.7,706.6 315.4,708.6 318.0,710.0 C320.6,711.4 322.7,712.7 326.5,716.1 C330.3,719.5 335.5,726.8 340.6,730.3 C345.7,733.8 351.9,736.0 357.1,737.4 C362.3,738.8 367.5,737.6 371.8,738.8 C376.1,740.0 379.2,741.9 383.1,744.4 C387.1,746.9 391.6,754.4 395.5,753.7 C399.4,753.0 403.1,744.8 406.6,740.1 C410.1,735.5 413.5,730.1 416.6,725.8 C419.7,721.5 422.1,717.6 425.2,714.3 C428.3,711.0 432.1,707.6 435.2,705.8 C438.3,704.0 440.4,702.9 443.8,703.6 C447.2,704.3 452.0,707.5 455.3,710.0 C458.6,712.5 461.1,715.6 463.8,718.6 C466.5,721.6 470.1,726.4 471.4,727.9"/>
<path d="M290.0,792.4 C291.7,791.2 296.3,788.4 300.0,785.0 C303.7,781.6 307.9,777.0 312.3,772.0 C316.7,767.0 321.8,761.0 326.5,755.0 C331.2,749.0 336.4,741.0 340.6,735.9 C344.9,730.8 349.2,727.0 352.0,724.6 C354.8,722.2 355.2,721.8 357.1,721.8 C359.0,721.8 360.9,721.3 363.3,724.6 C365.8,727.9 369.0,735.4 371.8,741.6 C374.6,747.8 377.8,753.9 380.3,762.0 C382.8,770.1 384.8,782.7 386.6,790.0 C388.4,797.3 389.4,801.6 391.0,806.0 C392.6,810.4 393.3,816.1 395.9,816.5 C398.5,816.9 402.9,812.1 406.6,808.6 C410.3,805.1 414.7,800.3 418.0,795.8 C421.3,791.3 423.7,786.0 426.6,781.5 C429.5,777.0 432.5,772.4 435.2,768.6 C437.9,764.9 440.1,761.8 443.0,759.0 C445.9,756.2 449.4,754.0 452.4,752.0 C455.4,750.0 457.8,748.6 461.0,747.2 C464.2,745.8 469.7,744.3 471.4,743.7"/>
<path d="M290.0,748.5 C292.8,750.9 301.1,757.0 306.7,762.7 C312.3,768.4 318.0,776.4 323.6,782.5 C329.2,788.6 334.9,795.2 340.6,799.5 C346.3,803.8 351.9,809.0 357.6,808.0 C363.3,807.0 369.9,798.6 374.6,793.8 C379.3,789.0 382.4,782.5 386.0,779.0 C389.6,775.5 392.7,772.6 395.9,772.6 C399.1,772.6 402.2,776.0 405.2,778.7 C408.2,781.4 410.4,785.2 413.8,788.7 C417.2,792.2 421.8,797.5 425.6,799.5 C429.5,801.5 432.2,803.7 436.9,800.9 C441.6,798.1 449.2,788.9 453.9,782.5 C458.6,776.1 462.4,767.9 465.3,762.7 C468.2,757.5 470.4,753.2 471.4,751.3"/>
<path d="M290.0,751.3 C291.8,753.2 297.3,758.0 301.0,762.7 C304.7,767.4 308.5,773.5 312.3,779.6 C316.1,785.7 319.8,792.9 323.6,799.5 C327.4,806.1 331.2,813.2 335.0,819.3 C338.8,825.4 342.5,831.3 346.3,836.3 C350.1,841.2 353.8,845.2 357.6,849.0 C361.4,852.8 365.2,854.9 369.0,858.9 C372.8,862.9 375.8,868.9 380.3,873.1 C384.8,877.4 390.7,884.9 395.9,884.4 C401.1,883.9 406.4,876.4 411.4,870.3 C416.3,864.2 421.4,855.1 425.6,847.6 C429.9,840.1 432.6,833.5 436.9,825.0 C441.1,816.5 446.9,806.1 451.1,796.6 C455.4,787.1 459.0,775.8 462.4,768.3 C465.8,760.8 469.9,754.1 471.4,751.3"/>
<path d="M395.9,816.5 C397.2,813.5 401.5,803.7 403.8,798.6 C406.1,793.5 407.4,790.4 409.5,786.0 C411.6,781.6 414.2,776.0 416.6,772.0 C419.0,768.0 421.3,764.3 423.8,762.0 C426.3,759.7 428.7,757.4 431.6,758.0 C434.5,758.6 438.0,762.6 441.0,765.8 C444.0,769.0 446.6,773.9 449.5,777.3 C452.4,780.6 455.2,783.5 458.1,785.9 C461.0,788.3 464.5,790.4 466.7,791.6 C468.9,792.8 470.6,792.8 471.4,793.0"/>
<path d="M414.0,820.0 C415.0,818.3 417.9,813.5 420.0,810.0 C422.1,806.5 423.8,803.2 426.6,798.7 C429.4,794.2 433.4,788.0 436.7,783.0 C440.0,778.0 443.4,773.2 446.7,768.7 C450.0,764.2 453.6,758.9 456.7,755.8 C459.8,752.7 462.9,751.0 465.3,750.1 C467.8,749.2 470.4,750.1 471.4,750.1"/>
<path d="M290.0,792.4 C292.8,793.1 300.6,795.0 306.7,796.6 C312.8,798.2 320.4,800.4 326.5,802.3 C332.6,804.2 338.3,806.8 343.5,808.0 C348.7,809.2 351.9,808.5 357.6,809.4 C363.3,810.3 371.1,812.4 377.5,813.6 C383.9,814.8 391.1,816.4 395.9,816.5 C400.6,816.6 402.0,815.2 406.0,814.0 C410.0,812.8 415.2,810.5 420.0,809.0 C424.8,807.5 429.4,806.5 435.0,805.0 C440.6,803.5 447.8,801.5 453.9,800.0 C460.0,798.5 468.5,796.7 471.4,796.0"/>
<path d="M290.0,803.7 C292.8,804.4 300.6,806.4 306.7,808.0 C312.8,809.6 320.4,811.7 326.5,813.6 C332.6,815.5 338.3,817.9 343.5,819.3 C348.7,820.7 351.9,821.0 357.6,822.1 C363.4,823.2 371.7,825.4 378.0,825.8 C384.3,826.2 390.7,824.9 395.5,824.4 C400.3,823.9 402.4,823.8 406.6,822.9 C410.8,822.0 416.1,820.4 420.9,818.7 C425.7,817.0 430.9,814.6 435.2,812.9 C439.5,811.2 442.9,810.0 446.7,808.6 C450.5,807.2 454.0,805.5 458.1,804.3 C462.2,803.1 469.2,802.0 471.4,801.5"/>
<path d="M290.0,795.2 C291.8,797.3 297.3,804.0 301.0,808.0 C304.7,812.0 308.1,816.2 312.3,819.3 C316.6,822.4 321.8,824.8 326.5,826.4 C331.2,828.0 335.4,828.5 340.6,829.2 C345.8,829.9 351.5,830.8 357.6,830.6 C363.8,830.4 371.1,828.7 377.5,827.8 C383.9,826.9 391.0,826.3 395.9,825.0 C400.8,823.7 403.6,821.0 406.6,820.1 C409.6,819.2 411.7,819.2 413.8,819.4 C415.9,819.6 417.1,820.2 419.5,821.5 C421.9,822.8 425.2,825.7 428.1,827.2 C431.0,828.8 434.1,831.0 436.7,830.8 C439.3,830.6 441.2,828.5 443.8,825.8 C446.4,823.1 449.5,818.2 452.4,814.4 C455.3,810.6 458.1,806.2 461.0,802.9 C463.9,799.5 467.9,796.0 469.6,794.3 C471.3,792.6 471.1,793.1 471.4,792.9"/>
<path d="M290.0,892.9 C292.3,891.2 298.4,886.8 303.8,883.0 C309.2,879.2 316.1,870.1 322.2,870.3 C328.3,870.5 334.7,880.1 340.6,884.4 C346.5,888.6 351.9,896.3 357.6,895.8 C363.3,895.3 368.2,888.9 374.6,881.6 C381.0,874.3 390.2,855.2 395.9,851.9 C401.6,848.6 404.6,858.5 408.6,861.8 C412.6,865.1 415.2,870.8 419.9,871.7 C424.6,872.6 431.2,865.8 436.9,867.4 C442.6,869.0 448.1,877.4 453.9,881.6 C459.6,885.9 468.5,891.0 471.4,892.9"/>
</g>
<path d="M290.0,578.6 C291.4,579.2 295.4,580.8 298.1,582.1 C300.8,583.4 304.0,585.8 306.4,586.2 C308.8,586.7 310.1,584.3 312.7,584.8 C315.2,585.3 319.0,587.3 321.7,589.0 C324.4,590.7 326.3,593.1 328.6,595.0 C330.9,596.9 333.4,599.0 335.5,600.5 C337.6,602.0 338.7,603.3 341.0,604.3 C343.3,605.3 346.7,606.2 349.4,606.6 C352.1,607.0 354.4,606.9 357.0,606.9 C359.6,606.9 362.5,606.0 364.7,606.4 C366.9,606.8 368.1,608.1 370.0,609.5 C371.9,610.9 373.8,612.3 376.0,614.5 C378.2,616.7 380.9,620.3 383.1,622.7 C385.3,625.1 387.4,627.3 389.0,629.0 C390.6,630.7 391.8,632.0 393.0,632.8 C394.2,633.6 395.0,634.0 396.0,634.0 C397.0,634.0 397.9,633.7 399.0,632.6 C400.1,631.5 401.4,629.5 402.5,627.5 C403.6,625.5 404.4,623.6 405.8,620.5 C407.2,617.4 409.1,612.2 411.0,609.0 C412.9,605.8 415.1,603.2 417.1,601.0 C419.2,598.8 421.1,596.3 423.3,595.8 C425.5,595.3 427.8,598.3 430.4,597.9 C433.0,597.5 436.3,595.0 438.9,593.6 C441.5,592.2 443.4,590.6 446.0,589.4 C448.6,588.2 451.7,587.7 454.5,586.5 C457.3,585.3 460.2,583.6 463.0,582.3 C465.8,581.0 470.0,579.4 471.4,578.8" stroke="#44b088" stroke-width="2.8" fill="none"/>
<path d="M290.0,667.1 C291.3,667.5 295.2,667.9 298.0,669.5 C300.8,671.1 304.2,673.8 306.7,676.5 C309.2,679.2 310.6,682.7 313.0,686.0 C315.4,689.3 318.5,693.1 320.8,696.3 C323.1,699.5 324.9,702.6 327.0,705.0 C329.1,707.4 331.4,710.1 333.6,710.4 C335.8,710.7 337.9,708.6 340.0,707.0 C342.1,705.4 344.5,702.5 346.3,700.5 C348.1,698.5 349.2,696.4 351.0,695.0 C352.8,693.6 354.8,692.3 357.1,692.0 C359.4,691.7 362.1,692.8 364.7,693.3 C367.3,693.8 370.8,694.5 373.0,694.7 C375.2,694.9 375.8,695.1 378.0,694.3 C380.2,693.5 383.1,691.3 386.0,690.0 C388.9,688.7 393.1,686.6 395.5,686.4 C397.9,686.2 398.6,687.5 400.5,689.0 C402.4,690.5 403.9,692.4 406.6,695.7 C409.3,699.0 413.5,705.6 416.6,708.6 C419.7,711.6 422.8,713.2 425.2,713.6 C427.6,714.0 429.1,712.3 431.0,711.0 C432.9,709.7 434.3,708.8 436.7,705.8 C439.1,702.8 442.6,697.0 445.2,692.9 C447.8,688.8 449.9,684.3 452.4,681.0 C454.9,677.7 457.7,675.0 460.0,673.0 C462.3,671.0 464.1,670.0 466.0,669.0 C467.9,668.0 470.5,667.4 471.4,667.1" stroke="#e06c70" stroke-width="2.7" fill="none"/>
<path d="M471.4,667.1L397.3,634.3" stroke="#3850aa" stroke-width="3.1" fill="none"/>
<path d="M401.0,642.0L396.2,633.8L405.5,631.8" stroke="#3850aa" stroke-width="3.1" fill="none" stroke-linejoin="miter" stroke-linecap="round"/>
<circle cx="471.4" cy="667.1" r="4.3" fill="#2a44a8"/>
</g>
<path d="M287.2,908.2H290.0" stroke="#5e5e5e" stroke-width="1.8"/>
<path d="M287.2,868.0H290.0" stroke="#5e5e5e" stroke-width="1.8"/>
<path d="M287.2,827.8H290.0" stroke="#5e5e5e" stroke-width="1.8"/>
<path d="M287.2,787.6H290.0" stroke="#5e5e5e" stroke-width="1.8"/>
<path d="M287.2,747.5H290.0" stroke="#5e5e5e" stroke-width="1.8"/>
<path d="M287.2,707.3H290.0" stroke="#5e5e5e" stroke-width="1.8"/>
<path d="M287.2,667.1H290.0" stroke="#5e5e5e" stroke-width="1.8"/>
<path d="M287.2,626.9H290.0" stroke="#5e5e5e" stroke-width="1.8"/>
<path d="M287.2,586.7H290.0" stroke="#5e5e5e" stroke-width="1.8"/>
<path d="M287.2,546.6H290.0" stroke="#5e5e5e" stroke-width="1.8"/>
<path d="M287.2,506.4H290.0" stroke="#5e5e5e" stroke-width="1.8"/>
<rect x="290.0" y="506.5" width="181.39999999999998" height="401.70000000000005" fill="none" stroke="#5e5e5e" stroke-width="2.7"/>
<circle cx="471.4" cy="667.1" r="4.3" fill="#2a44a8"/>
<g clip-path="url(#cpd)">
<g stroke="#b4b4b4" stroke-width="2" fill="none">
<path d="M562.6,506.5V908.2"/>
<path d="M600.9,506.5V908.2"/>
</g>
<path d="M496.1,-100.0H677.7" stroke="#b6b6b6" stroke-width="2" stroke-dasharray="2 1" fill="none"/>
<path d="M496.1,667.1H677.7" stroke="#888" stroke-width="2.2" fill="none"/>
<g stroke="#788080" stroke-width="1.6" fill="none">
<path d="M496.1,610.5 C497.4,610.1 501.4,609.3 503.9,608.0 C506.3,606.7 509.1,604.3 510.8,602.5 C512.5,600.7 512.0,600.9 514.3,597.3 C516.6,593.7 521.4,585.6 524.7,580.7 C528.1,575.9 530.9,572.6 534.4,568.2 C537.9,563.8 542.0,557.6 545.5,554.3 C549.0,550.9 552.4,549.4 555.2,548.1 C558.0,546.8 559.1,546.8 562.1,546.7 C565.1,546.6 570.2,547.1 573.2,547.4 C576.2,547.7 576.9,547.5 580.0,548.3 C583.1,549.0 588.1,550.7 591.7,551.9 C595.4,553.1 598.5,556.5 601.9,555.6 C605.3,554.8 608.6,548.8 612.1,546.8 C615.6,544.8 619.7,543.4 623.1,543.6 C626.5,543.9 629.6,545.8 632.6,548.3 C635.6,550.8 638.4,554.6 641.3,558.5 C644.2,562.4 647.2,566.7 650.1,571.6 C653.0,576.5 656.4,583.3 658.8,587.7 C661.2,592.1 662.8,595.0 664.7,597.9 C666.6,600.8 667.8,603.0 670.0,605.0 C672.2,607.0 676.4,609.0 677.7,609.8"/>
<path d="M524.0,611.0 C524.6,610.0 525.7,607.6 527.4,605.3 C529.1,602.9 532.1,600.8 534.4,596.9 C536.7,593.0 538.3,587.1 541.3,582.1 C544.3,577.1 548.9,569.9 552.4,566.8 C555.9,563.7 558.6,563.5 562.1,563.3 C565.6,563.1 570.2,564.9 573.2,565.4 C576.2,565.9 577.4,566.2 580.0,566.5 C582.6,566.8 586.1,567.6 588.8,567.2 C591.5,566.8 593.9,565.1 596.1,564.3 C598.3,563.4 599.5,561.6 601.9,562.1 C604.3,562.6 607.8,564.4 610.7,567.2 C613.6,570.0 616.5,575.0 619.4,578.9 C622.3,582.8 625.8,587.1 628.2,590.6 C630.6,594.1 632.1,597.1 634.0,600.0 C635.9,602.9 637.2,605.1 639.6,607.7 C642.0,610.3 645.3,616.1 648.1,615.4 C650.9,614.7 654.2,606.5 656.6,603.4 C659.0,600.3 659.9,598.9 662.3,597.0 C664.7,595.1 668.2,593.3 670.8,592.1 C673.4,590.9 676.6,590.4 677.7,590.0"/>
<path d="M496.1,590.0 C497.4,590.7 501.0,592.8 503.9,594.2 C506.8,595.6 509.7,596.4 513.6,598.3 C517.5,600.1 523.2,603.0 527.4,605.3 C531.5,607.6 535.0,609.4 538.5,612.2 C542.0,615.0 545.3,618.7 548.3,621.9 C551.3,625.1 554.2,629.3 556.6,631.6 C559.0,633.9 560.3,635.8 562.4,635.8 C564.5,635.8 566.8,634.1 569.1,631.6 C571.4,629.1 573.4,624.9 576.0,620.5 C578.6,616.1 582.4,609.6 585.0,605.3 C587.6,601.0 588.8,597.8 591.5,594.9 C594.2,592.0 598.1,588.0 601.4,587.8 C604.7,587.6 608.2,590.9 611.3,593.5 C614.4,596.1 616.7,600.6 619.8,603.4 C622.9,606.2 626.4,609.7 629.7,610.5 C633.0,611.3 636.5,609.6 639.6,608.4 C642.7,607.2 644.8,605.2 648.1,603.4 C651.4,601.6 655.7,599.6 659.5,597.7 C663.3,595.8 667.8,593.4 670.8,592.1 C673.8,590.8 676.6,590.4 677.7,590.0"/>
<path d="M496.1,719.6 C497.6,718.7 501.5,715.4 505.0,714.0 C508.5,712.6 512.8,711.0 517.0,711.0 C521.2,711.0 526.0,712.6 530.0,714.0 C534.0,715.4 537.0,717.2 541.2,719.6 C545.5,722.0 551.8,726.0 555.5,728.1 C559.2,730.2 559.1,731.0 563.4,732.4 C567.7,733.8 576.5,735.2 581.1,736.6 C585.7,738.0 587.6,738.9 591.0,741.0 C594.4,743.1 598.2,748.8 601.6,749.3 C605.0,749.8 608.5,746.4 611.3,744.2 C614.0,742.0 615.8,739.4 618.1,736.0 C620.4,732.6 622.6,727.2 625.0,724.0 C627.4,720.8 629.5,718.9 632.3,716.7 C635.1,714.5 638.7,712.2 642.0,711.0 C645.3,709.8 648.2,709.1 652.3,709.6 C656.4,710.1 662.3,712.2 666.5,713.9 C670.7,715.6 675.8,718.6 677.7,719.6"/>
<path d="M496.1,743.5 C498.0,743.9 503.5,744.2 507.2,745.7 C510.9,747.2 514.7,749.6 518.5,752.7 C522.3,755.8 526.0,760.2 529.8,764.1 C533.6,768.0 537.3,772.6 541.1,776.1 C544.9,779.6 548.9,783.2 552.5,785.3 C556.1,787.4 559.4,788.2 562.7,788.9 C566.0,789.6 569.3,789.2 572.3,789.6 C575.3,790.0 577.6,790.3 580.8,791.0 C584.0,791.7 588.1,793.2 591.5,793.8 C594.9,794.4 598.1,794.6 601.4,794.5 C604.7,794.4 608.2,794.2 611.3,793.1 C614.4,792.0 616.7,790.6 619.8,788.1 C622.9,785.6 626.4,781.5 629.7,778.2 C633.0,774.9 636.3,771.8 639.6,768.3 C642.9,764.8 646.3,760.3 649.6,757.0 C652.9,753.7 656.4,750.6 659.5,748.5 C662.6,746.4 665.0,745.0 668.0,744.2 C671.0,743.4 676.1,743.6 677.7,743.5"/>
<path d="M496.1,819.3 C498.0,818.8 503.5,818.4 507.2,816.5 C510.9,814.6 515.2,811.3 518.5,808.0 C521.8,804.7 524.2,800.9 527.0,796.6 C529.8,792.4 532.7,787.0 535.5,782.5 C538.3,778.0 541.2,773.2 544.0,769.7 C546.8,766.2 549.4,763.1 552.5,761.2 C555.6,759.3 559.4,757.9 562.7,758.1 C566.0,758.4 569.5,760.1 572.3,762.7 C575.1,765.4 577.3,769.8 579.4,774.0 C581.5,778.2 583.2,783.9 585.0,788.1 C586.8,792.4 588.5,796.2 590.0,799.5 C591.5,802.8 592.9,805.2 594.3,808.0 C595.7,810.8 597.4,813.7 598.6,816.5 C599.8,819.3 600.2,824.5 601.4,825.0 C602.6,825.5 604.1,822.4 605.7,819.3 C607.4,816.2 609.2,810.9 611.3,806.6 C613.4,802.4 616.0,797.3 618.4,793.8 C620.8,790.2 623.1,786.8 625.5,785.3 C627.9,783.8 630.2,784.1 632.6,784.6 C635.0,785.1 637.0,786.1 639.6,788.1 C642.2,790.1 645.3,793.5 648.1,796.6 C650.9,799.7 653.8,803.5 656.6,806.6 C659.4,809.7 661.6,812.9 665.1,815.0 C668.6,817.1 675.6,818.6 677.7,819.3"/>
<path d="M496.1,774.7 C498.0,775.8 503.9,778.6 507.2,781.1 C510.5,783.6 512.6,786.1 515.7,789.6 C518.8,793.1 522.3,798.5 525.6,802.3 C528.9,806.1 532.0,809.6 535.5,812.2 C539.0,814.8 542.3,816.4 546.8,817.9 C551.3,819.4 558.9,821.3 562.7,821.4 C566.5,821.5 567.0,820.8 569.5,818.6 C572.0,816.4 575.3,812.5 578.0,808.0 C580.7,803.5 583.5,795.5 585.8,791.7 C588.0,787.9 588.9,787.7 591.5,785.3 C594.1,782.9 598.1,778.0 601.4,777.5 C604.7,777.0 608.2,780.2 611.3,782.5 C614.4,784.8 617.0,788.4 619.8,791.0 C622.6,793.6 625.5,796.5 628.3,798.1 C631.1,799.8 634.0,800.7 636.8,800.9 C639.6,801.1 642.9,800.2 645.3,799.5 C647.7,798.8 648.6,799.0 651.0,796.6 C653.4,794.2 656.7,788.6 659.5,785.3 C662.3,782.0 665.0,778.6 668.0,776.8 C671.0,775.0 676.1,775.1 677.7,774.7"/>
<path d="M496.1,774.7 C498.0,776.0 503.5,778.4 507.2,782.5 C510.9,786.6 515.2,794.3 518.5,799.5 C521.8,804.7 524.2,808.9 527.0,813.6 C529.8,818.3 532.2,824.0 535.5,827.8 C538.8,831.6 543.5,834.6 546.8,836.3 C550.1,837.9 552.6,837.5 555.3,837.7 C557.9,837.9 559.9,837.8 562.7,837.7 C565.5,837.6 568.9,837.2 572.3,837.0 C575.7,836.8 579.8,836.9 583.0,836.3 C586.2,835.7 588.4,834.7 591.5,833.5 C594.6,832.3 598.1,829.5 601.4,829.2 C604.7,829.0 607.8,830.8 611.3,832.0 C614.8,833.2 618.8,834.6 622.6,836.3 C626.4,838.0 630.7,840.5 634.0,842.0 C637.3,843.5 639.9,845.0 642.5,845.5 C645.1,846.0 647.2,846.3 649.6,844.8 C652.0,843.3 654.0,839.6 656.6,836.3 C659.2,833.0 661.6,827.8 665.1,825.0 C668.6,822.2 675.6,820.2 677.7,819.3"/>
<path d="M496.1,805.8 C498.0,805.9 503.0,806.0 507.2,806.6 C511.4,807.2 516.6,808.2 521.3,809.4 C526.0,810.6 530.8,812.4 535.5,813.6 C540.2,814.8 545.1,815.9 549.6,816.5 C554.1,817.1 558.0,817.1 562.7,817.2 C567.4,817.3 573.5,817.1 578.0,817.2 C582.5,817.3 586.1,817.4 590.0,817.6 C593.9,817.8 596.7,818.9 601.4,818.6 C606.1,818.3 613.2,816.9 618.4,815.8 C623.6,814.7 627.9,813.5 632.6,812.2 C637.3,810.9 642.0,809.1 646.7,808.0 C651.4,806.9 655.7,806.2 660.9,805.8 C666.1,805.4 674.9,805.8 677.7,805.8"/>
<path d="M496.1,819.3 C497.5,820.0 501.3,821.1 504.3,823.5 C507.3,825.9 510.7,830.2 514.2,833.5 C517.8,836.8 522.8,841.6 525.6,843.4 C528.4,845.2 528.6,844.8 531.2,844.1 C533.8,843.4 538.0,840.2 541.1,839.1 C544.2,838.0 546.0,837.6 549.6,837.7 C553.2,837.8 559.4,838.6 562.7,839.8 C566.0,841.0 567.0,842.1 569.5,844.8 C572.0,847.5 575.1,852.7 578.0,856.1 C580.9,859.5 582.9,861.8 586.8,865.2 C590.7,868.6 596.9,877.1 601.6,876.6 C606.3,876.1 611.9,866.7 615.2,862.4 C618.5,858.1 618.3,854.9 621.2,851.0 C624.1,847.1 629.1,844.4 632.6,839.1 C636.1,833.8 639.4,825.4 642.5,819.3 C645.6,813.2 648.2,807.2 651.0,802.3 C653.8,797.3 656.7,793.4 659.5,789.6 C662.3,785.8 665.0,782.1 668.0,779.6 C671.0,777.1 676.1,775.5 677.7,774.7"/>
<path d="M496.1,888.0 C498.4,886.7 504.9,882.6 510.0,880.0 C515.1,877.4 520.9,872.0 527.0,872.4 C533.1,872.8 540.8,879.0 546.9,882.3 C553.0,885.6 557.7,892.3 563.4,892.3 C569.1,892.3 574.7,888.7 581.1,882.3 C587.5,875.9 595.9,856.8 601.6,853.9 C607.3,851.0 611.0,862.1 615.2,865.2 C619.4,868.3 621.9,871.4 626.6,872.4 C631.4,873.4 638.0,869.8 643.7,871.0 C649.4,872.2 655.1,876.7 660.8,879.5 C666.5,882.3 674.9,886.6 677.7,888.0"/>
</g>
<path d="M496.1,610.5 C497.4,610.9 501.0,612.0 503.9,612.9 C506.8,613.8 510.8,616.0 513.6,616.1 C516.4,616.2 518.8,614.5 520.5,613.6 C522.2,612.7 522.4,609.8 524.0,610.5 C525.6,611.2 527.8,614.9 530.2,617.7 C532.6,620.5 535.5,624.1 538.5,627.4 C541.5,630.6 545.3,634.8 548.3,637.2 C551.3,639.6 554.2,641.0 556.6,642.0 C559.0,643.0 560.6,642.8 562.7,643.4 C564.8,644.0 566.7,644.0 569.1,645.5 C571.5,647.0 574.8,649.9 577.4,652.4 C580.0,654.9 582.6,658.2 585.0,660.7 C587.4,663.2 589.7,665.3 591.5,667.1 C593.3,668.9 594.3,670.3 596.0,671.5 C597.7,672.7 599.3,674.9 601.6,674.4 C603.9,673.9 607.3,671.1 609.9,668.5 C612.5,665.9 614.4,663.1 617.0,658.6 C619.6,654.1 622.2,646.8 625.5,641.6 C628.8,636.4 633.5,631.5 636.8,627.5 C640.1,623.5 643.4,619.6 645.3,617.6 C647.2,615.6 646.2,615.3 648.1,615.4 C650.0,615.5 653.3,618.4 656.6,618.3 C659.9,618.2 664.5,616.0 668.0,614.7 C671.5,613.4 676.1,611.2 677.7,610.5" stroke="#44b088" stroke-width="2.8" fill="none"/>
<path d="M496.1,667.5 C497.4,667.9 501.0,667.6 503.9,669.7 C506.8,671.8 510.8,676.8 513.6,680.2 C516.4,683.6 518.3,686.7 520.5,689.9 C522.7,693.1 524.6,696.1 527.0,699.6 C529.4,703.1 532.4,708.1 535.0,711.0 C537.6,713.9 540.4,716.3 542.7,716.7 C545.0,717.1 546.9,714.7 549.0,713.5 C551.1,712.3 553.1,711.0 555.5,709.6 C557.9,708.2 561.1,705.5 563.4,705.3 C565.6,705.1 567.0,707.3 569.0,708.5 C571.0,709.7 572.9,711.3 575.4,712.4 C577.9,713.5 581.0,715.2 583.9,715.3 C586.8,715.4 590.0,713.8 593.0,713.0 C596.0,712.2 598.7,709.8 601.9,710.4 C605.1,711.0 609.7,714.9 612.4,716.7 C615.1,718.6 615.9,720.1 618.0,721.5 C620.1,722.9 622.7,725.3 625.2,725.2 C627.7,725.1 630.4,722.9 633.0,721.0 C635.6,719.1 638.1,717.7 640.9,713.9 C643.7,710.1 646.8,702.8 649.6,698.3 C652.5,693.8 654.9,690.8 658.0,687.0 C661.1,683.2 664.7,678.9 668.0,675.6 C671.3,672.3 676.1,668.7 677.7,667.3" stroke="#e06c70" stroke-width="2.7" fill="none"/>
</g>
<path d="M493.3,908.2H496.1" stroke="#5e5e5e" stroke-width="1.8"/>
<path d="M493.3,868.0H496.1" stroke="#5e5e5e" stroke-width="1.8"/>
<path d="M493.3,827.8H496.1" stroke="#5e5e5e" stroke-width="1.8"/>
<path d="M493.3,787.6H496.1" stroke="#5e5e5e" stroke-width="1.8"/>
<path d="M493.3,747.5H496.1" stroke="#5e5e5e" stroke-width="1.8"/>
<path d="M493.3,707.3H496.1" stroke="#5e5e5e" stroke-width="1.8"/>
<path d="M493.3,667.1H496.1" stroke="#5e5e5e" stroke-width="1.8"/>
<path d="M493.3,626.9H496.1" stroke="#5e5e5e" stroke-width="1.8"/>
<path d="M493.3,586.7H496.1" stroke="#5e5e5e" stroke-width="1.8"/>
<path d="M493.3,546.6H496.1" stroke="#5e5e5e" stroke-width="1.8"/>
<path d="M493.3,506.4H496.1" stroke="#5e5e5e" stroke-width="1.8"/>
<rect x="496.1" y="506.5" width="181.60000000000002" height="401.70000000000005" fill="none" stroke="#5e5e5e" stroke-width="2.7"/>
<text transform="translate(50.13,513.77) scale(1,1.0134)" font-family="'Liberation Sans', sans-serif" font-weight="bold" font-style="normal" font-size="21.20" fill="#000">4.0</text>
<text transform="translate(50.13,594.13) scale(1,1.0134)" font-family="'Liberation Sans', sans-serif" font-weight="bold" font-style="normal" font-size="21.20" fill="#000">2.0</text>
<text transform="translate(50.13,674.49) scale(1,1.0134)" font-family="'Liberation Sans', sans-serif" font-weight="bold" font-style="normal" font-size="21.20" fill="#000">0.0</text>
<text transform="translate(43.08,754.85) scale(1,1.0134)" font-family="'Liberation Sans', sans-serif" font-weight="bold" font-style="normal" font-size="21.20" fill="#000">-2.0</text>
<text transform="translate(43.08,835.21) scale(1,1.0134)" font-family="'Liberation Sans', sans-serif" font-weight="bold" font-style="normal" font-size="21.20" fill="#000">-4.0</text>
<text transform="translate(43.08,915.57) scale(1,1.0134)" font-family="'Liberation Sans', sans-serif" font-weight="bold" font-style="normal" font-size="21.20" fill="#000">-6.0</text>
<text transform="translate(96.10,488.71) scale(1,0.9170)" font-family="'Liberation Serif', serif" font-weight="normal" font-style="normal" font-size="27.64" fill="#000">(b)</text>
<text transform="translate(136.50,493.89) scale(1,1.0417)" font-family="'Liberation Serif', serif" font-weight="bold" font-style="italic" font-size="20.40" fill="#000">a</text>
<text transform="translate(155.20,488.50) scale(1,0.6006)" font-family="'Liberation Sans', sans-serif" font-weight="bold" font-style="normal" font-size="20.17" fill="#000" style="stroke-width:1px">=</text>
<text transform="translate(175.20,493.44) scale(1,1.0032)" font-family="'Liberation Serif', serif" font-weight="bold" font-style="normal" font-size="23.60" fill="#000">3.100</text>
<text transform="translate(238.90,493.80) scale(1,0.8782)" font-family="'Liberation Serif', serif" font-weight="bold" font-style="normal" font-size="24.50" fill="#000">Å</text>
<text transform="translate(298.20,489.10) scale(1,0.9549)" font-family="'Liberation Serif', serif" font-weight="normal" font-style="normal" font-size="27.12" fill="#000">(c)</text>
<text transform="translate(341.60,493.89) scale(1,1.0417)" font-family="'Liberation Serif', serif" font-weight="bold" font-style="italic" font-size="20.40" fill="#000">a</text>
<text transform="translate(359.80,488.50) scale(1,0.5809)" font-family="'Liberation Sans', sans-serif" font-weight="bold" font-style="normal" font-size="20.85" fill="#000" style="stroke-width:1px">=</text>
<text transform="translate(380.20,493.44) scale(1,1.0069)" font-family="'Liberation Serif', serif" font-weight="bold" font-style="normal" font-size="23.60" fill="#000">3.299</text>
<text transform="translate(444.20,493.80) scale(1,0.8934)" font-family="'Liberation Serif', serif" font-weight="bold" font-style="normal" font-size="24.08" fill="#000">Å</text>
<text transform="translate(506.60,488.98) scale(1,0.9719)" font-family="'Liberation Serif', serif" font-weight="normal" font-style="normal" font-size="27.21" fill="#000">(d)</text>
<text transform="translate(547.50,493.89) scale(1,0.9930)" font-family="'Liberation Serif', serif" font-weight="bold" font-style="italic" font-size="21.40" fill="#000">a</text>
<text transform="translate(566.10,489.40) scale(1,0.5719)" font-family="'Liberation Sans', sans-serif" font-weight="bold" font-style="normal" font-size="20.51" fill="#000" style="stroke-width:1px">=</text>
<text transform="translate(585.70,493.64) scale(1,1.0050)" font-family="'Liberation Serif', serif" font-weight="bold" font-style="normal" font-size="23.64" fill="#000">3.522</text>
<text transform="translate(649.80,493.80) scale(1,0.8494)" font-family="'Liberation Serif', serif" font-weight="bold" font-style="normal" font-size="25.33" fill="#000">Å</text>
<text transform="translate(79.90,936.00) scale(1,1.1177)" font-family="'Liberation Serif', serif" font-weight="bold" font-style="normal" font-size="24.31" fill="#000">Γ</text>
<text transform="translate(140.00,936.00) scale(1,1.1313)" font-family="'Liberation Serif', serif" font-weight="bold" font-style="normal" font-size="24.02" fill="#000">M</text>
<text transform="translate(181.40,936.00) scale(1,1.1299)" font-family="'Liberation Serif', serif" font-weight="bold" font-style="normal" font-size="24.05" fill="#000">K</text>
<text transform="translate(258.60,936.00) scale(1,1.1706)" font-family="'Liberation Serif', serif" font-weight="bold" font-style="normal" font-size="23.22" fill="#000">Γ</text>
<text transform="translate(283.40,936.00) scale(1,1.1398)" font-family="'Liberation Serif', serif" font-weight="bold" font-style="normal" font-size="23.84" fill="#000">Γ</text>
<text transform="translate(345.00,936.00) scale(1,1.1313)" font-family="'Liberation Serif', serif" font-weight="bold" font-style="normal" font-size="24.02" fill="#000">M</text>
<text transform="translate(384.60,936.00) scale(1,1.1299)" font-family="'Liberation Serif', serif" font-weight="bold" font-style="normal" font-size="24.05" fill="#000">K</text>
<text transform="translate(462.20,936.00) scale(1,1.1398)" font-family="'Liberation Serif', serif" font-weight="bold" font-style="normal" font-size="23.84" fill="#000">Γ</text>
<text transform="translate(492.10,936.00) scale(1,1.1398)" font-family="'Liberation Serif', serif" font-weight="bold" font-style="normal" font-size="23.84" fill="#000">Γ</text>
<text transform="translate(551.50,936.00) scale(1,1.1166)" font-family="'Liberation Serif', serif" font-weight="bold" font-style="normal" font-size="24.34" fill="#000">M</text>
<text transform="translate(593.30,936.00) scale(1,1.1360)" font-family="'Liberation Serif', serif" font-weight="bold" font-style="normal" font-size="23.92" fill="#000">K</text>
<text transform="translate(669.70,936.00) scale(1,1.1398)" font-family="'Liberation Serif', serif" font-weight="bold" font-style="normal" font-size="23.84" fill="#000">Γ</text>
<text transform="translate(23.78,789.20) rotate(-90) scale(1,1.0000)" font-family="'Liberation Serif', serif" font-weight="bold" font-style="normal" font-size="32.20" fill="#000">Energy (eV)</text>
</g>
</svg></body></html>
